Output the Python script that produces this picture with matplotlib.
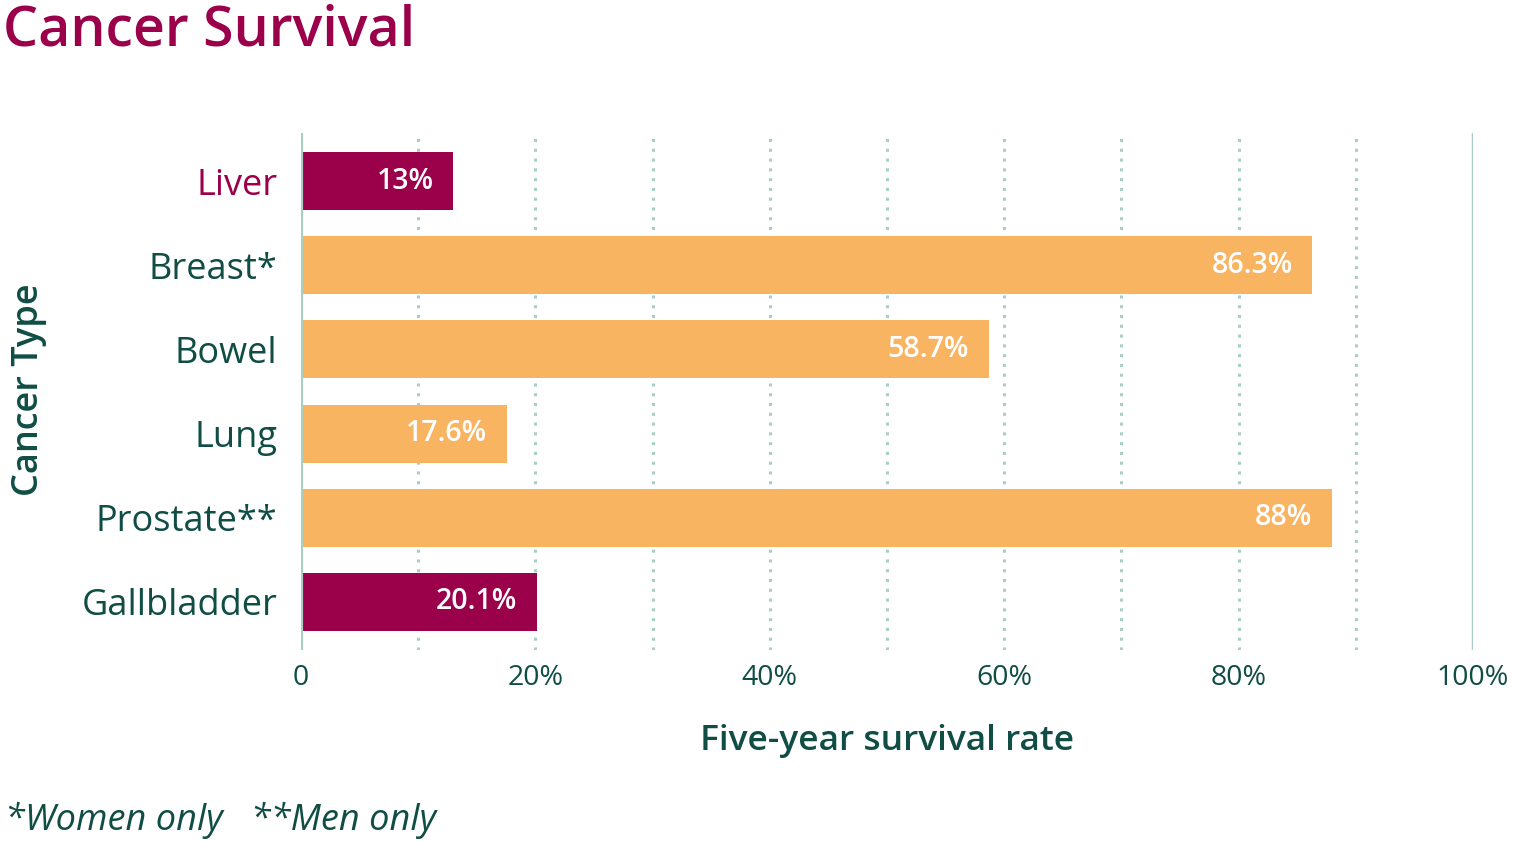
import matplotlib.pyplot as plt

# data
cancer_types = ['Liver', 'Breast*', 'Bowel', 'Lung', 'Prostate**', 'Gallbladder']
survival = [13, 86.3, 58.7, 17.6, 88, 20.1]
bar_labels = ['13%', '86.3%', '58.7%', '17.6%', '88%', '20.1%']
highlight = [True, False, False, False, False, True]
x_ticks = [0, 20, 40, 60, 80, 100]
x_tick_labels = ['0', '20%', '40%', '60%', '80%', '100%']

maroon = '#9B004B'
orange = '#F8B461'
teal = '#0F4D45'
grid_c = '#A8CFC5'

plt.rcParams['font.family'] = ['Open Sans', 'DejaVu Sans']

fig = plt.figure(figsize=(15.36, 8.41), dpi=100)
ax = fig.add_axes([301 / 1536, 1 - 650 / 841, (1473 - 301) / 1536, (650 - 133) / 841])

colors = [maroon if h else orange for h in highlight]
ax.barh(range(len(cancer_types)), survival, height=0.69, color=colors, zorder=3)

# grid lines every 10%
for gx in range(10, 100, 10):
    ax.axvline(gx, color=grid_c, linestyle=(0, (1, 2.2)), linewidth=2.2, zorder=1)
ax.axvline(100, color=grid_c, linewidth=2.5, zorder=1)
ax.axvline(0, color=grid_c, linewidth=3, zorder=4)

for i, (v, lab) in enumerate(zip(survival, bar_labels)):
    ax.text(v - 1.7, i, lab, ha='right', va='center', color='white',
            fontsize=20.5, fontweight='semibold', zorder=5)

ax.set_xlim(0, 100)
ax.set_ylim(5.571, -0.571)
ax.set_yticks(range(len(cancer_types)))
ax.set_yticklabels(cancer_types, fontsize=26, color=teal)
ax.get_yticklabels()[0].set_color(maroon)
ax.set_xticks(x_ticks)
ax.set_xticklabels(x_tick_labels, fontsize=20.5, color=teal)
ax.tick_params(axis='both', length=0)
ax.tick_params(axis='y', pad=17)
ax.tick_params(axis='x', pad=10)
for s in ax.spines.values():
    s.set_visible(False)

ax.set_xlabel('Five-year survival rate', fontsize=25.5, fontweight='semibold', color=teal, labelpad=23)
fig.text(0.019, 1 - 390 / 841, 'Cancer Type', rotation=90, ha='center', va='center',
         fontsize=26, fontweight='semibold', color=teal)

fig.text(0.002, 1 - 45 / 841, 'Cancer Survival', ha='left', va='baseline',
         fontsize=40, fontweight='semibold', color=maroon)
fig.text(0.003, 1 - 820 / 841, '*Women only   **Men only', ha='left', va='center',
         fontsize=26, fontstyle='italic', color=teal)

fig.savefig('out.png', dpi=100)
